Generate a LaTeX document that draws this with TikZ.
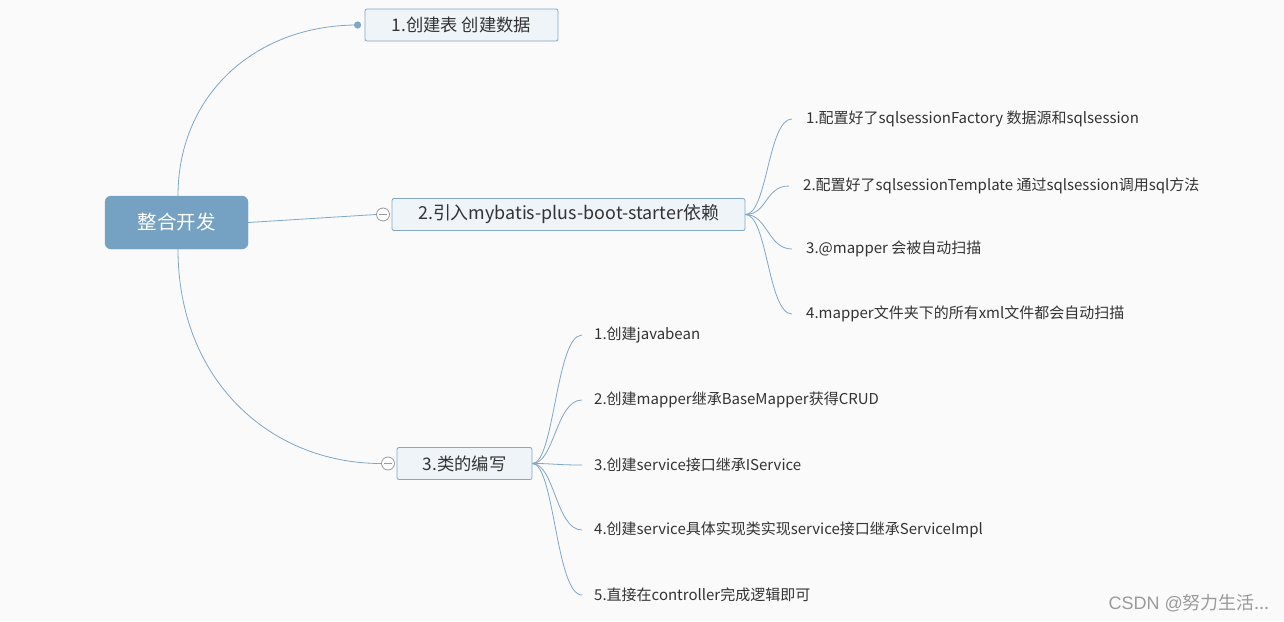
\documentclass[tikz,border=0pt]{standalone}
\usepackage{fontspec}
\setmainfont{Noto Sans CJK SC}
\newfontfamily\wmfont{Liberation Sans}
\definecolor{bgc}{HTML}{FAFAFA}
\definecolor{rootc}{HTML}{75A1C2}
\definecolor{nodefill}{HTML}{EEF4F8}
\definecolor{nodeedge}{HTML}{80A8C8}
\definecolor{linec}{HTML}{7FA7C8}
\definecolor{txt}{HTML}{333333}
\definecolor{wm}{HTML}{9A9A9A}
\tikzset{
  rootbox/.style={draw=rootc, fill=rootc, rounded corners=6pt, text=white, minimum width=143pt, minimum height=53pt, inner sep=0pt, font=\fontsize{19.5}{22}\selectfont},
  topicbox/.style={draw=nodeedge, fill=nodefill, rounded corners=2pt, line width=0.8pt, text=txt, minimum height=32pt, inner sep=0pt, font=\fontsize{17.3}{20}\selectfont},
  leaf/.style={anchor=west, text=txt, inner xsep=14pt, inner ysep=2pt, font=\fontsize{15}{17}\selectfont},
  leafb/.style={leaf, inner xsep=12pt},
  conn/.style={draw=linec, line width=0.8pt},
  collapse/.style={circle, draw=gray!80, fill=white, line width=0.8pt, minimum size=13pt, inner sep=0pt},
}
\begin{document}
\begin{tikzpicture}[x=1pt,y=-1pt]
\fill[bgc] (0,0) rectangle (1284,621);
\useasboundingbox (0,0) rectangle (1284,621);

% main nodes
\node[rootbox] (root) at (176.5,222.5) {整合开发};
\node[topicbox, minimum width=193pt] (n1) at (461.5,25) {1.创建表 创建数据};
\node[topicbox, minimum width=353pt, font=\fontsize{17.9}{20}\selectfont] (n2) at (568.5,214.5) {2.引入mybatis-plus-boot-starter依赖};
\node[topicbox, minimum width=135pt] (n3) at (464.5,463.5) {3.类的编写};

% collapse markers
\node[collapse] (c2) at (383,214.5) {};
\node[collapse] (c3) at (388,463.5) {};
\draw[gray!80, line width=0.9pt] ([xshift=-4pt]c2.center) -- ([xshift=4pt]c2.center);
\draw[gray!80, line width=0.9pt] ([xshift=-4pt]c3.center) -- ([xshift=4pt]c3.center);
\coordinate (d1) at ([xshift=-7pt]n1.west);

% root connectors
\draw[conn] ([xshift=1.5pt]root.north) .. controls (178,95) and (255,25) .. (d1);
\fill[linec] (d1) circle (3.6pt);
\draw[conn] (root.east) -- (c2.west);
\draw[conn] ([xshift=1.5pt]root.south) .. controls (178,380) and (270,463.5) .. (c3.west);

% children of node 2
\node[leaf] (a1) at (792,119) {1.配置好了sqlsessionFactory 数据源和sqlsession};
\node[leaf] (a2) at (789,186) {2.配置好了sqlsessionTemplate 通过sqlsession调用sql方法};
\node[leaf] (a3) at (792,249) {3.@mapper 会被自动扫描};
\node[leaf] (a4) at (792,314) {4.mapper文件夹下的所有xml文件都会自动扫描};
\foreach \c in {a1,a2,a3,a4}{
  \draw[conn] (n2.east) .. controls ([xshift=22pt]n2.east) and ([xshift=-24pt]\c.west) .. (\c.west);
}

% children of node 3
\node[leafb] (b1) at (582,335) {1.创建javabean};
\node[leafb] (b2) at (582,400) {2.创建mapper继承BaseMapper获得CRUD};
\node[leafb] (b3) at (582,465) {3.创建service接口继承IService};
\node[leafb] (b4) at (582,530) {4.创建service具体实现类实现service接口继承ServiceImpl};
\node[leafb] (b5) at (582,595) {5.直接在controller完成逻辑即可};
\foreach \c in {b1,b2,b3,b4,b5}{
  \draw[conn] (n3.east) .. controls ([xshift=22pt]n3.east) and ([xshift=-26pt]\c.west) .. (\c.west);
}

% watermark
\node[anchor=east, text=wm, inner sep=0pt, font=\fontsize{18}{20}\selectfont] (wmk) at (1270,603) {{\wmfont CSDN @}努力生活...};
\end{tikzpicture}
\end{document}
